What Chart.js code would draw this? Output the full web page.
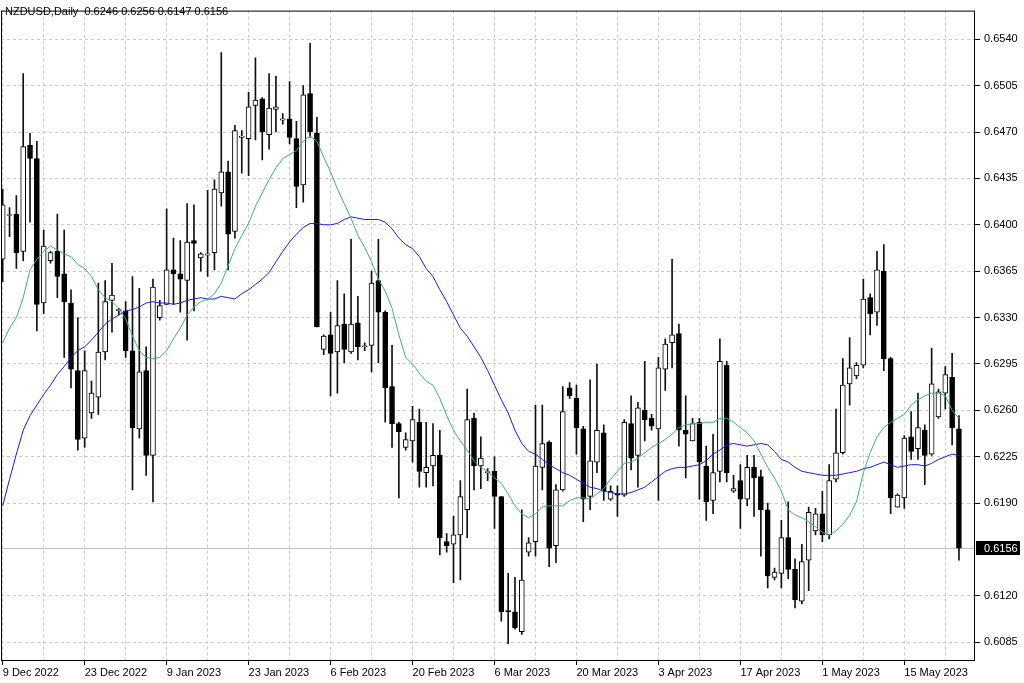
<!DOCTYPE html>
<html lang="en">
<head>
<meta charset="UTF-8">
<title>NZDUSD, Daily</title>
<script src="https://cdn.jsdelivr.net/npm/chart.js"></script>
<style>
  html, body { margin: 0; padding: 0; background: #fff; }
  canvas { display: block; }
</style>
</head>
<body>
<canvas id="chart" width="1024" height="683"></canvas>
<script>
// chart values
const symbol = 'NZDUSD,Daily';

const dates = [
  '9 Dec 2022','11 Dec 2022','12 Dec 2022','13 Dec 2022','14 Dec 2022','15 Dec 2022','16 Dec 2022','18 Dec 2022','19 Dec 2022','20 Dec 2022',
  '21 Dec 2022','22 Dec 2022','23 Dec 2022','26 Dec 2022','27 Dec 2022','28 Dec 2022','29 Dec 2022','30 Dec 2022','2 Jan 2023','3 Jan 2023',
  '4 Jan 2023','5 Jan 2023','6 Jan 2023','8 Jan 2023','9 Jan 2023','10 Jan 2023','11 Jan 2023','12 Jan 2023','13 Jan 2023','15 Jan 2023',
  '16 Jan 2023','17 Jan 2023','18 Jan 2023','19 Jan 2023','20 Jan 2023','22 Jan 2023','23 Jan 2023','24 Jan 2023','25 Jan 2023','26 Jan 2023',
  '27 Jan 2023','29 Jan 2023','30 Jan 2023','31 Jan 2023','1 Feb 2023','2 Feb 2023','3 Feb 2023','5 Feb 2023','6 Feb 2023','7 Feb 2023',
  '8 Feb 2023','9 Feb 2023','10 Feb 2023','12 Feb 2023','13 Feb 2023','14 Feb 2023','15 Feb 2023','16 Feb 2023','17 Feb 2023','19 Feb 2023',
  '20 Feb 2023','21 Feb 2023','22 Feb 2023','23 Feb 2023','24 Feb 2023','26 Feb 2023','27 Feb 2023','28 Feb 2023','1 Mar 2023','2 Mar 2023',
  '3 Mar 2023','5 Mar 2023','6 Mar 2023','7 Mar 2023','8 Mar 2023','9 Mar 2023','10 Mar 2023','12 Mar 2023','13 Mar 2023','14 Mar 2023',
  '15 Mar 2023','16 Mar 2023','17 Mar 2023','19 Mar 2023','20 Mar 2023','21 Mar 2023','22 Mar 2023','23 Mar 2023','24 Mar 2023','26 Mar 2023',
  '27 Mar 2023','28 Mar 2023','29 Mar 2023','30 Mar 2023','31 Mar 2023','2 Apr 2023','3 Apr 2023','4 Apr 2023','5 Apr 2023','6 Apr 2023',
  '7 Apr 2023','9 Apr 2023','10 Apr 2023','11 Apr 2023','12 Apr 2023','13 Apr 2023','14 Apr 2023','16 Apr 2023','17 Apr 2023','18 Apr 2023',
  '19 Apr 2023','20 Apr 2023','21 Apr 2023','23 Apr 2023','24 Apr 2023','25 Apr 2023','26 Apr 2023','27 Apr 2023','28 Apr 2023','30 Apr 2023',
  '1 May 2023','2 May 2023','3 May 2023','4 May 2023','5 May 2023','7 May 2023','8 May 2023','9 May 2023','10 May 2023','11 May 2023',
  '12 May 2023','14 May 2023','15 May 2023','16 May 2023','17 May 2023','18 May 2023','19 May 2023','21 May 2023','22 May 2023','23 May 2023',
  '24 May 2023'
];

const open = [
  0.6374,0.6407,0.6408,0.6380,0.6460,0.6450,0.6341,0.6373,0.6380,0.6363,
  0.6341,0.6290,0.6239,0.6258,0.6270,0.6304,0.6343,0.6335,0.6335,0.6305,
  0.6246,0.6290,0.6226,0.6330,0.6340,0.6366,0.6363,0.6358,0.6388,0.6375,
  0.6377,0.6379,0.6424,0.6440,0.6395,0.6466,0.6465,0.6490,0.6495,0.6468,
  0.6487,0.6479,0.6480,0.6465,0.6430,0.6499,0.6469,0.6306,0.6317,0.6304,
  0.6325,0.6304,0.6326,0.6308,0.6309,0.6358,0.6334,0.6278,0.6250,0.6232,
  0.6237,0.6251,0.6213,0.6218,0.6226,0.6161,0.6159,0.6166,0.6185,0.6254,
  0.6218,0.6213,0.6214,0.6195,0.6109,0.6108,0.6093,0.6153,0.6161,0.6217,
  0.6236,0.6158,0.6200,0.6277,0.6269,0.6246,0.6195,0.6221,0.6243,0.6193,
  0.6197,0.6196,0.6250,0.6226,0.6260,0.6254,0.6246,0.6291,0.6311,0.6318,
  0.6245,0.6237,0.6251,0.6218,0.6192,0.6214,0.6294,0.6199,0.6207,0.6193,
  0.6217,0.6210,0.6185,0.6134,0.6137,0.6164,0.6140,0.6116,0.6147,0.6169,
  0.6182,0.6166,0.6208,0.6228,0.6280,0.6286,0.6294,0.6345,0.6334,0.6365,
  0.6299,0.6187,0.6194,0.6240,0.6231,0.6245,0.6227,0.6255,0.6273,0.6285,
  0.6246
];

const high = [
  0.6427,0.6413,0.6422,0.6514,0.6469,0.6463,0.6396,0.6380,0.6408,0.6396,
  0.6351,0.6330,0.6305,0.6282,0.6356,0.6358,0.6371,0.6337,0.6342,0.6361,
  0.6352,0.6308,0.6359,0.6343,0.6412,0.6390,0.6388,0.6416,0.6415,0.6379,
  0.6426,0.6434,0.6530,0.6448,0.6475,0.6471,0.6500,0.6526,0.6496,0.6514,
  0.6512,0.6484,0.6508,0.6478,0.6505,0.6537,0.6481,0.6317,0.6334,0.6358,
  0.6348,0.6389,0.6346,0.6311,0.6365,0.6389,0.6335,0.6309,0.6251,0.6243,
  0.6263,0.6261,0.6251,0.6250,0.6245,0.6167,0.6180,0.6207,0.6276,0.6258,
  0.6240,0.6216,0.6225,0.6195,0.6137,0.6134,0.6185,0.6164,0.6264,0.6264,
  0.6237,0.6204,0.6278,0.6281,0.6279,0.6248,0.6283,0.6295,0.6249,0.6203,
  0.6203,0.6253,0.6271,0.6266,0.6297,0.6257,0.6300,0.6314,0.6374,0.6325,
  0.6271,0.6254,0.6254,0.6233,0.6242,0.6314,0.6297,0.6211,0.6219,0.6226,
  0.6226,0.6215,0.6190,0.6141,0.6177,0.6191,0.6148,0.6159,0.6187,0.6186,
  0.6199,0.6219,0.6261,0.6299,0.6315,0.6296,0.6359,0.6348,0.6380,0.6385,
  0.6300,0.6197,0.6241,0.6259,0.6273,0.6249,0.6307,0.6276,0.6293,0.6303,
  0.6256
];

const low = [
  0.6357,0.6391,0.6367,0.6373,0.6402,0.6320,0.6333,0.6371,0.6345,0.6300,
  0.6277,0.6230,0.6232,0.6254,0.6257,0.6298,0.6319,0.6332,0.6300,0.6200,
  0.6239,0.6211,0.6191,0.6328,0.6340,0.6340,0.6334,0.6313,0.6335,0.6365,
  0.6361,0.6366,0.6414,0.6366,0.6390,0.6439,0.6437,0.6464,0.6449,0.6457,
  0.6470,0.6476,0.6461,0.6413,0.6417,0.6466,0.6323,0.6302,0.6271,0.6273,
  0.6296,0.6303,0.6298,0.6305,0.6289,0.6296,0.6251,0.6232,0.6194,0.6230,
  0.6221,0.6202,0.6202,0.6203,0.6151,0.6153,0.6130,0.6132,0.6164,0.6200,
  0.6201,0.6207,0.6171,0.6101,0.6084,0.6095,0.6091,0.6150,0.6150,0.6200,
  0.6142,0.6145,0.6199,0.6269,0.6227,0.6176,0.6185,0.6213,0.6192,0.6192,
  0.6180,0.6195,0.6215,0.6202,0.6237,0.6245,0.6192,0.6275,0.6292,0.6233,
  0.6209,0.6237,0.6193,0.6177,0.6182,0.6206,0.6206,0.6198,0.6171,0.6188,
  0.6180,0.6150,0.6126,0.6132,0.6126,0.6133,0.6111,0.6114,0.6124,0.6166,
  0.6161,0.6163,0.6206,0.6227,0.6264,0.6284,0.6292,0.6317,0.6324,0.6290,
  0.6182,0.6187,0.6186,0.6223,0.6223,0.6204,0.6226,0.6254,0.6261,0.6234,
  0.6147
];

const close = [
  0.6415,0.6407,0.6379,0.6459,0.6450,0.6340,0.6384,0.6379,0.6361,0.6342,
  0.6291,0.6238,0.6290,0.6273,0.6304,0.6342,0.6347,0.6336,0.6305,0.6247,
  0.6289,0.6226,0.6353,0.6339,0.6366,0.6363,0.6359,0.6387,0.6386,0.6378,
  0.6378,0.6427,0.6440,0.6393,0.6471,0.6467,0.6489,0.6494,0.6470,0.6488,
  0.6489,0.6480,0.6466,0.6429,0.6498,0.6470,0.6323,0.6316,0.6303,0.6324,
  0.6306,0.6325,0.6308,0.6308,0.6356,0.6334,0.6277,0.6250,0.6244,0.6238,
  0.6253,0.6214,0.6217,0.6226,0.6164,0.6158,0.6166,0.6195,0.6253,0.6218,
  0.6224,0.6213,0.6195,0.6108,0.6108,0.6096,0.6132,0.6160,0.6218,0.6235,
  0.6156,0.6200,0.6259,0.6271,0.6247,0.6193,0.6222,0.6245,0.6199,0.6199,
  0.6196,0.6251,0.6224,0.6262,0.6253,0.6248,0.6292,0.6310,0.6317,0.6245,
  0.6242,0.6250,0.6221,0.6191,0.6213,0.6297,0.6213,0.6201,0.6193,0.6217,
  0.6209,0.6185,0.6135,0.6138,0.6164,0.6140,0.6117,0.6146,0.6183,0.6182,
  0.6166,0.6207,0.6228,0.6279,0.6292,0.6294,0.6344,0.6333,0.6366,0.6299,
  0.6194,0.6196,0.6239,0.6229,0.6247,0.6226,0.6280,0.6274,0.6287,0.6247,
  0.6156
];

// green moving average (fast)
const maFast = [
  0.6311,0.6322,0.6330,0.6345,0.6366,0.6374,0.6380,0.6384,0.6381,0.6378,
  0.6376,0.6370,0.6367,0.6361,0.6351,0.6345,0.6342,0.6337,0.6329,0.6316,
  0.6305,0.6300,0.6299,0.6300,0.6305,0.6314,0.6322,0.6332,0.6338,0.6342,
  0.6344,0.6348,0.6356,0.6369,0.6382,0.6392,0.6401,0.6414,0.6424,0.6434,
  0.6443,0.6450,0.6453,0.6456,0.6463,0.6467,0.6463,0.6451,0.6440,0.6427,
  0.6416,0.6405,0.6392,0.6383,0.6372,0.6359,0.6350,0.6337,0.6317,0.6300,
  0.6295,0.6288,0.6282,0.6279,0.6269,0.6256,0.6245,0.6237,0.6230,0.6222,
  0.6217,0.6214,0.6209,0.6205,0.6197,0.6188,0.6182,0.6179,0.6182,0.6187,
  0.6188,0.6188,0.6188,0.6192,0.6194,0.6194,0.6193,0.6197,0.6201,0.6208,
  0.6214,0.6220,0.6221,0.6224,0.6228,0.6232,0.6235,0.6238,0.6242,0.6247,
  0.6249,0.6250,0.6250,0.6251,0.6251,0.6254,0.6254,0.6251,0.6247,0.6243,
  0.6237,0.6227,0.6217,0.6209,0.6199,0.6185,0.6181,0.6179,0.6176,0.6172,
  0.6168,0.6166,0.6169,0.6174,0.6181,0.6191,0.6213,0.6228,0.6240,0.6247,
  0.6251,0.6254,0.6257,0.6264,0.6268,0.6271,0.6273,0.6273,0.6271,0.6260,
  0.6254
];

// blue moving average (slow)
const maSlow = [
  0.6188,0.6208,0.6227,0.6245,0.6256,0.6264,0.6272,0.6279,0.6287,0.6293,
  0.6300,0.6305,0.6308,0.6313,0.6319,0.6325,0.6329,0.6332,0.6335,0.6336,
  0.6338,0.6341,0.6342,0.6341,0.6341,0.6340,0.6341,0.6343,0.6344,0.6345,
  0.6344,0.6344,0.6346,0.6345,0.6344,0.6348,0.6351,0.6355,0.6359,0.6364,
  0.6372,0.6380,0.6387,0.6393,0.6398,0.6401,0.6401,0.6400,0.6400,0.6401,
  0.6404,0.6406,0.6405,0.6404,0.6404,0.6404,0.6402,0.6397,0.6390,0.6385,
  0.6382,0.6376,0.6367,0.6361,0.6351,0.6342,0.6332,0.6322,0.6316,0.6308,
  0.6300,0.6290,0.6279,0.6268,0.6258,0.6245,0.6235,0.6229,0.6227,0.6223,
  0.6219,0.6216,0.6213,0.6211,0.6208,0.6205,0.6202,0.6201,0.6199,0.6198,
  0.6197,0.6197,0.6198,0.6200,0.6202,0.6206,0.6210,0.6214,0.6216,0.6217,
  0.6217,0.6218,0.6219,0.6222,0.6227,0.6230,0.6234,0.6235,0.6234,0.6233,
  0.6234,0.6235,0.6234,0.6229,0.6223,0.6221,0.6217,0.6214,0.6213,0.6212,
  0.6211,0.6211,0.6211,0.6212,0.6213,0.6214,0.6216,0.6217,0.6219,0.6221,
  0.6219,0.6217,0.6218,0.6219,0.6219,0.6218,0.6220,0.6223,0.6225,0.6227,
  0.6226
];

const priceTicks = [0.6540, 0.6505, 0.6470, 0.6435, 0.6400, 0.6365, 0.6330,
                    0.6295, 0.6260, 0.6225, 0.6190, 0.6120, 0.6085];

const FONT = '"Liberation Sans", Arial, sans-serif';
const last = close.length - 1;

// bid line, frame, price box and the header text
const mt4Extras = {
  id: 'mt4Extras',
  beforeDatasetsDraw(chart) {
    const { ctx, chartArea: a, scales: { y } } = chart;
    const py = Math.round(y.getPixelForValue(close[last])) + 0.5;
    ctx.save();
    ctx.strokeStyle = '#c0c0c0';
    ctx.lineWidth = 1;
    ctx.beginPath();
    ctx.moveTo(a.left, py);
    ctx.lineTo(a.right, py);
    ctx.stroke();
    ctx.restore();
  },
  afterDraw(chart) {
    const { ctx, chartArea: a, scales: { y } } = chart;
    const py = Math.round(y.getPixelForValue(close[last]));
    ctx.save();
    ctx.strokeStyle = '#000';
    ctx.lineWidth = 1;
    ctx.strokeRect(a.left + 0.5, a.top + 0.5, a.right - a.left - 1, a.bottom - a.top - 1);

    ctx.fillStyle = '#000';
    ctx.fillRect(a.right + 1, py - 7, 44, 14);
    ctx.fillStyle = '#fff';
    ctx.font = '11px ' + FONT;
    ctx.textBaseline = 'middle';
    ctx.fillText(close[last].toFixed(4), a.right + 9, py + 0.5);

    ctx.fillStyle = '#000';
    ctx.textBaseline = 'alphabetic';
    const head = symbol + '  ' + [open[last], high[last], low[last], close[last]]
      .map(v => v.toFixed(4)).join(' ');
    ctx.fillText(head, 5, 15);
    ctx.restore();
  }
};

const idx = dates.map((d, i) => i);

new Chart(document.getElementById('chart'), {
  type: 'bar',
  data: {
    datasets: [
      {
        type: 'line',
        label: 'MA fast',
        data: idx.map(i => ({ x: i, y: maFast[i] })),
        borderColor: '#3cb371',
        borderWidth: 1,
        pointRadius: 0,
        tension: 0,
        order: 0
      },
      {
        type: 'line',
        label: 'MA slow',
        data: idx.map(i => ({ x: i, y: maSlow[i] })),
        borderColor: '#1a1ae6',
        borderWidth: 1,
        pointRadius: 0,
        tension: 0,
        order: 0
      },
      {
        label: 'body',
        data: idx.map(i => ({ x: i, y: [open[i], close[i]] })),
        backgroundColor: idx.map(i => close[i] >= open[i] ? '#ffffff' : '#000000'),
        borderColor: '#000',
        borderWidth: 1,
        borderSkipped: false,
        barThickness: 5,
        minBarLength: 1,
        grouped: false,
        order: 1
      },
      {
        label: 'wick',
        data: idx.map(i => ({ x: i, y: [low[i], high[i]] })),
        backgroundColor: '#111',
        borderWidth: 0,
        barThickness: 1,
        grouped: false,
        order: 2
      }
    ]
  },
  options: {
    responsive: false,
    animation: false,
    devicePixelRatio: 1,
    layout: { padding: { left: 1, top: 2, right: 0, bottom: 0 } },
    plugins: {
      legend: { display: false },
      tooltip: { enabled: false }
    },
    scales: {
      x: {
        type: 'linear',
        min: -0.25,
        max: 142.35,
        offset: false,
        grid: {
          offset: false,
          color: '#c8c8c8',
          tickLength: 4,
          tickColor: c => (c.tick && c.tick.value % 12 === 0) ? '#000' : 'rgba(0,0,0,0)',
          tickBorderDash: []
        },
        border: { display: false, dash: [3, 3] },
        afterBuildTicks: scale => {
          const t = [];
          for (let i = 0; i < dates.length; i += 6) t.push({ value: i });
          scale.ticks = t;
        },
        afterFit: scale => { scale.height = 22; },
        ticks: {
          autoSkip: false,
          maxRotation: 0,
          align: 'start',
          padding: 1,
          color: '#000',
          font: { family: FONT, size: 11 },
          callback: v => (v % 12 === 0 && dates[v]) ? dates[v] : ''
        }
      },
      y: {
        position: 'right',
        min: 0.60709,
        max: 0.65616,
        beginAtZero: false,
        grid: {
          color: '#c8c8c8',
          tickLength: 5,
          tickColor: '#000',
          tickBorderDash: []
        },
        border: { display: false, dash: [3, 3] },
        afterBuildTicks: scale => {
          scale.ticks = priceTicks.map(v => ({ value: v }));
        },
        afterFit: scale => { scale.width = 49; },
        ticks: {
          padding: 4,
          color: '#000',
          font: { family: FONT, size: 11 },
          callback: v => Number(v).toFixed(4)
        }
      }
    }
  },
  plugins: [mt4Extras]
});
</script>
</body>
</html>
